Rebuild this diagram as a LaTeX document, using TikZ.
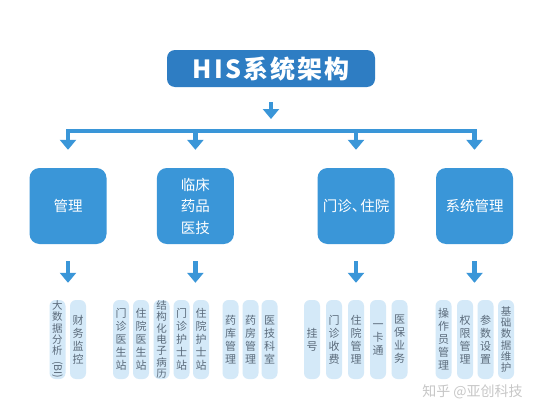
\documentclass[tikz,border=0pt]{standalone}
\usepackage{fontspec}
\usepackage{graphicx}
\usetikzlibrary{arrows.meta}
\newfontfamily\cjk{Noto Sans CJK SC}
\definecolor{hisblue}{HTML}{3A96D8}
\definecolor{titleblue}{HTML}{2E7DC3}
\definecolor{leafblue}{HTML}{D4E9F8}
\definecolor{leaftext}{HTML}{5B6B7B}
\tikzset{
  titlebox/.style={shape=rectangle, rounded corners=8pt, fill=titleblue, text=white, inner sep=0, minimum width=208pt, minimum height=37pt, font=\cjk\bfseries\fontsize{25}{25}\selectfont\addfontfeature{LetterSpace=8}},
  modbox/.style={shape=rectangle, rounded corners=10pt, fill=hisblue, text=white, inner sep=0, minimum width=77pt, minimum height=76pt, align=center, font=\cjk\fontsize{14.5}{21.5}\selectfont},
  leaf/.style={shape=rectangle, rounded corners=6pt, fill=leafblue, text=leaftext, inner sep=0, minimum width=16pt, minimum height=79pt, align=center, text width=14pt, font=\cjk\fontsize{11}{13}\selectfont},
  tight/.style={font=\cjk\fontsize{10.5}{11.3}\selectfont},
  flow/.style={draw=hisblue, line width=4.5pt, -{Triangle[width=16pt,length=10pt]}},
  busbar/.style={draw=hisblue, line width=4.5pt, line cap=rect},
}
\begin{document}
\begin{tikzpicture}[x=1pt, y=-1pt]
          \useasboundingbox[fill=white] (0,0) rectangle (547,415);
          % Paths, nodes and wires:
          \node[titlebox] (his) at (271, 68.5){HIS系统架构};
          \coordinate (hisarrowtop) at (271, 102);
          \coordinate (hisarrowend) at (271, 119);
          \coordinate (bus) at (271, 131);
          \node[modbox] (guanli) at (68, 206){管理};
          \node[modbox] (linchuang) at (195.4, 206){临床\\药品\\医技};
          \node[modbox] (menzhen) at (356, 206){门诊、\kern-6pt住院};
          \node[modbox] (xitong) at (474.5, 206){系统管理};
          \node[leaf, tight] (dashuju) at (57.5, 339.5){大\\数\\据\\分\\析\\\raisebox{5pt}{\rotatebox{-90}{(BI)}}};
          \node[leaf] (caiwu) at (78, 339.5){财\\务\\监\\控};
          \node[leaf] (mzys) at (121, 339.5){门\\诊\\医\\生\\站};
          \node[leaf] (zyys) at (141, 339.5){住\\院\\医\\生\\站};
          \node[leaf, tight] (dzbl) at (161.5, 339.5){结\\构\\化\\电\\子\\病\\历};
          \node[leaf] (mzhs) at (181.5, 339.5){门\\诊\\护\\士\\站};
          \node[leaf] (zyhs) at (201, 339.5){住\\院\\护\\士\\站};
          \node[leaf] (yaoku) at (230.5, 339.5){药\\库\\管\\理};
          \node[leaf] (yaofang) at (250.5, 339.5){药\\房\\管\\理};
          \node[leaf] (yiji) at (269.5, 339.5){医\\技\\科\\室};
          \node[leaf] (guahao) at (312, 339.5){挂\\号};
          \node[leaf] (shoufei) at (334, 339.5){门\\诊\\收\\费};
          \node[leaf] (zhuyuan) at (356, 339.5){住\\院\\管\\理};
          \node[leaf] (yikatong) at (378, 339.5){一\\卡\\通};
          \node[leaf] (yibao) at (399.5, 339.5){医\\保\\业\\务};
          \node[leaf] (czy) at (443.5, 339.5){操\\作\\员\\管\\理};
          \node[leaf] (quanxian) at (465, 339.5){权\\限\\管\\理};
          \node[leaf] (canshu) at (485.5, 339.5){参\\数\\设\\置};
          \node[leaf, tight] (jichu) at (506, 339.5){基\\础\\数\\据\\维\\护};
          \node[text=black!22, font=\cjk\fontsize{14}{14}\selectfont] (mark) at (472.5, 392){知乎 @亚创科技};
          \draw[flow] (hisarrowtop) -- (hisarrowend);
          \draw[busbar] (guanli |- bus) -- (xitong |- bus);
          \draw[flow, shorten >=18pt] (guanli |- bus) -- (guanli.north);
          \draw[flow, shorten >=18pt] (linchuang |- bus) -- (linchuang.north);
          \draw[flow, shorten >=18pt] (menzhen |- bus) -- (menzhen.north);
          \draw[flow, shorten >=18pt] (xitong |- bus) -- (xitong.north);
          \draw[flow, shorten <=17pt, shorten >=17pt] (guanli.south) -- (guanli.south |- caiwu.north);
          \draw[flow, shorten <=17pt, shorten >=17pt] (linchuang.south) -- (linchuang.south |- mzys.north);
          \draw[flow, shorten <=17pt, shorten >=17pt] (menzhen.south) -- (menzhen.south |- guahao.north);
          \draw[flow, shorten <=17pt, shorten >=17pt] (xitong.south) -- (xitong.south |- czy.north);
        \end{tikzpicture}
\end{document}
